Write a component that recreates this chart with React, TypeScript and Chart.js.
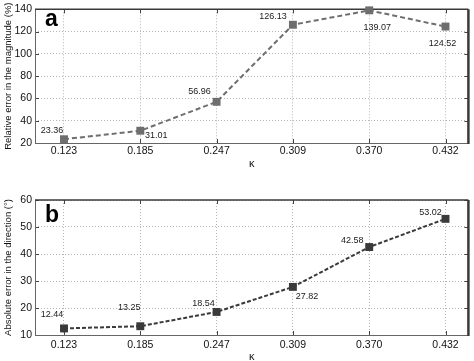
import React, { useEffect, useRef } from 'react';
import { Chart, registerables } from 'chart.js';

Chart.register(...registerables);

// ---------- data ----------
const kappaLabels = ['0.123', '0.185', '0.247', '0.309', '0.370', '0.432'];
const magnitudeError = [23.36, 31.01, 56.96, 126.13, 139.07, 124.52];
const directionError = [12.44, 13.25, 18.54, 27.82, 42.58, 53.02];
const magnitudeTicks = [20, 40, 60, 80, 100, 120, 140];
const directionTicks = [10, 20, 30, 40, 50, 60];

// label placement (style), dx/dy from the marker
const magnitudeLabelOffsets = [[-12, -9], [16, 5], [-17, -10], [-20, -8], [8, 17], [-3, 17]];
const directionLabelOffsets = [[-12, -14], [-11, -19], [-13, -8], [14, 10], [-17, -7], [-15, -6]];

const FONT = '"Liberation Sans", Arial, Helvetica, sans-serif';

const decoPlugin = {
  id: 'deco',
  beforeDatasetsDraw(chart: any, _args: any, opts: any) {
    const { ctx, chartArea, scales } = chart;
    const { left, right, top, bottom } = chartArea;
    const x = scales.x;
    const y = scales.y;
    ctx.save();
    ctx.strokeStyle = '#444';
    ctx.lineWidth = 1;
    const tl = 4;
    ctx.beginPath();
    x.ticks.forEach((t: any) => {
      const px = Math.round(x.getPixelForValue(t.value)) + 0.5;
      ctx.moveTo(px, bottom);
      ctx.lineTo(px, bottom - tl);
      ctx.moveTo(px, top);
      ctx.lineTo(px, top + tl);
    });
    y.ticks.forEach((t: any) => {
      const py = Math.round(y.getPixelForValue(t.value)) + 0.5;
      ctx.moveTo(left, py);
      ctx.lineTo(left + tl, py);
      ctx.moveTo(right, py);
      ctx.lineTo(right - tl, py);
    });
    ctx.stroke();
    // frame
    ctx.strokeStyle = '#666';
    ctx.lineWidth = 1;
    ctx.beginPath();
    ctx.moveTo(left + 0.5, top);
    ctx.lineTo(left + 0.5, bottom + 0.5);
    ctx.lineTo(right, bottom + 0.5);
    ctx.stroke();
    ctx.strokeStyle = '#3a3a3a';
    ctx.lineWidth = 1.5;
    ctx.beginPath();
    ctx.moveTo(left, top);
    ctx.lineTo(right, top);
    ctx.stroke();
    ctx.lineWidth = 2.5;
    ctx.beginPath();
    ctx.moveTo(right, top);
    ctx.lineTo(right, bottom + 1);
    ctx.stroke();
    // panel letter
    ctx.fillStyle = '#000';
    ctx.font = `bold 23px ${FONT}`;
    ctx.textAlign = 'left';
    ctx.textBaseline = 'alphabetic';
    ctx.fillText(opts.letter, left + 10, top + opts.letterDy);
    ctx.restore();
  },
  afterDatasetsDraw(chart: any, _args: any, opts: any) {
    const { ctx } = chart;
    const meta = chart.getDatasetMeta(0);
    const values = chart.data.datasets[0].data;
    ctx.save();
    ctx.fillStyle = '#1a1a1a';
    ctx.font = `9px ${FONT}`;
    ctx.textAlign = 'center';
    ctx.textBaseline = 'middle';
    meta.data.forEach((pt: any, i: number) => {
      const [dx, dy] = opts.offsets[i];
      ctx.fillText(values[i].y.toFixed(2), pt.x + dx, pt.y + dy);
    });
    ctx.restore();
  },
};

function buildConfig(p: {
  values: number[];
  ticks: number[];
  yTitle: string;
  color: string;
  dash: number[];
  offsets: number[][];
  letter: string;
  letterDy: number;
  padTop: number;
  xAxisHeight: number;
  xTickPad: number;
  xTitlePadBottom: number;
}) {
  const points = p.values.map((v, i) => ({ x: i, y: v }));
  return {
    type: 'line' as const,
    data: {
      datasets: [
        {
          data: points,
          borderColor: p.color,
          borderWidth: 2,
          borderDash: p.dash,
          pointStyle: 'rect',
          pointRadius: 5.6,
          pointBackgroundColor: p.color,
          pointBorderColor: p.color,
          pointBorderWidth: 0,
          fill: false,
          tension: 0,
          clip: false,
        },
      ],
    },
    options: {
      responsive: false,
      animation: false,
      events: [],
      layout: { padding: { top: p.padTop, right: 1.5, left: 0, bottom: 0 } },
      plugins: {
        legend: { display: false },
        tooltip: { enabled: false },
        deco: { letter: p.letter, letterDy: p.letterDy, offsets: p.offsets },
      },
      scales: {
        x: {
          type: 'linear',
          min: -0.38,
          max: 5.3,
          afterBuildTicks: (s: any) => {
            s.ticks = kappaLabels.map((_, i) => ({ value: i }));
          },
          afterFit: (s: any) => {
            s.height = p.xAxisHeight;
          },
          ticks: {
            autoSkip: false,
            maxRotation: 0,
            padding: p.xTickPad,
            color: '#111',
            font: { family: FONT, size: 10.5 },
            callback: (v: any) => kappaLabels[v] ?? '',
          },
          grid: { color: '#b5b5b5', lineWidth: 1, drawTicks: false },
          border: { display: false, dash: [1, 2] },
          title: {
            display: true,
            text: 'κ',
            color: '#111',
            font: { family: FONT, size: 11 },
            padding: { top: 0, bottom: p.xTitlePadBottom },
          },
        },
        y: {
          type: 'linear',
          min: p.ticks[0],
          max: p.ticks[p.ticks.length - 1],
          afterBuildTicks: (s: any) => {
            s.ticks = p.ticks.map((v) => ({ value: v }));
          },
          afterFit: (s: any) => {
            s.width = 35;
          },
          ticks: {
            padding: 3,
            color: '#111',
            font: { family: FONT, size: 10.5 },
          },
          grid: { color: '#b5b5b5', lineWidth: 1, drawTicks: false },
          border: { display: false, dash: [1, 2] },
          title: {
            display: true,
            text: p.yTitle,
            color: '#111',
            font: { family: FONT, size: 9.5 },
            padding: { top: 3, bottom: 0 },
          },
        },
      },
    },
    plugins: [decoPlugin],
  };
}

function Panel({ height, config }: { height: number; config: () => any }) {
  const ref = useRef<HTMLCanvasElement | null>(null);
  useEffect(() => {
    if (!ref.current) return;
    const chart = new Chart(ref.current, config());
    return () => chart.destroy();
  }, []);
  return <canvas ref={ref} width={474} height={height} style={{ display: 'block', width: 474, height }} />;
}

export default function App() {
  return (
    <div
      style={{
        position: 'absolute',
        left: 0,
        top: 0,
        width: 474,
        height: 361,
        overflow: 'hidden',
        background: '#fff',
      }}
    >
      <Panel
        height={180}
        config={() =>
          buildConfig({
            values: magnitudeError,
            ticks: magnitudeTicks,
            yTitle: 'Relative error in the magnitude (%)',
            color: '#6e6e6e',
            dash: [5, 3],
            offsets: magnitudeLabelOffsets,
            letter: 'a',
            letterDy: 17,
            padTop: 7,
            xAxisHeight: 37,
            xTickPad: 2,
            xTitlePadBottom: 9.5,
          })
        }
      />
      <Panel
        height={185}
        config={() =>
          buildConfig({
            values: directionError,
            ticks: directionTicks,
            yTitle: 'Absolute error in the direction (°)',
            color: '#3a3a3a',
            dash: [4, 2],
            offsets: directionLabelOffsets,
            letter: 'b',
            letterDy: 22,
            padTop: 20,
            xAxisHeight: 30,
            xTickPad: 4,
            xTitlePadBottom: 1.5,
          })
        }
      />
    </div>
  );
}
